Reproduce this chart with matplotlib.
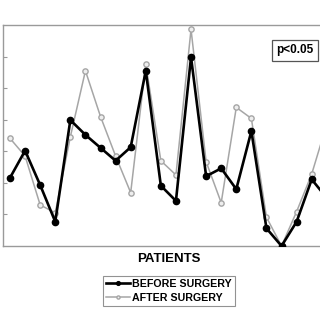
import matplotlib
matplotlib.use('Agg')
import matplotlib.pyplot as plt
import numpy as np

plt.rcParams['font.family'] = ['Liberation Sans', 'DejaVu Sans']

# one value per patient
patients = np.arange(1, 23)
before_surgery = [21.6, 30.2, 19.3, 7.7, 39.9, 35.2, 31.1, 27.0, 31.3, 55.5, 19.1,
                  14.3, 59.8, 22.1, 24.6, 18.0, 36.4, 5.6, 0.0, 7.7, 21.1, 15.2]
after_surgery = [34.1, 28.5, 13.0, 10.5, 34.6, 55.5, 41.0, 28.5, 16.9, 57.6, 27.0,
                 22.5, 68.6, 26.7, 13.7, 43.9, 40.4, 9.1, 0.0, 10.9, 22.8, 38.6]
y_ticks = [10, 20, 30, 40, 50, 60]

GRAY = '#a6a6a6'
FRAME = '#9a9a9a'

fig = plt.figure(figsize=(3.2, 3.2), dpi=100)
ax = fig.add_axes([3 / 320, 74 / 320, 330.8 / 320, 221 / 320])

ax.plot(patients, before_surgery, color='black', lw=1.9, marker='o', ms=4.5,
        mfc='black', mec='black', label='BEFORE SURGERY', zorder=3)
ax.plot(patients, after_surgery, color=GRAY, lw=1.1, marker='o', ms=3.8,
        mfc='#eeeeee', mec=GRAY, mew=1.0, label='AFTER SURGERY', zorder=2)

ax.set_xlim(1 - 7 / 15.085, 22 + 7 / 15.085)
ax.set_ylim(0, 70)
ax.set_xticks([])
ax.set_yticks(y_ticks)
ax.set_yticklabels([])
ax.tick_params(axis='y', direction='in', length=3, width=0.8, color=FRAME)
for s in ax.spines.values():
    s.set_color(FRAME)
    s.set_linewidth(1.0)

ax.set_xlabel('PATIENTS', fontsize=9.5, fontweight='bold', labelpad=5)

ax.text(0.883, 0.885, 'p<0.05', transform=ax.transAxes, ha='center', va='center',
        fontsize=8.5, fontweight='bold',
        bbox=dict(boxstyle='square,pad=0.35', fc='white', ec='#555555', lw=0.9))

leg = fig.legend(loc='upper center', bbox_to_anchor=(169.2 / 320, 0.155),
                 fontsize=7.7, frameon=True, fancybox=False, edgecolor='#777777',
                 handlelength=2.2, handletextpad=0.25, labelspacing=0.4,
                 borderpad=0.3, markerscale=0.6)
leg.get_frame().set_linewidth(0.8)
for t in leg.get_texts():
    t.set_fontweight('bold')

fig.savefig('out.png', dpi=100)
